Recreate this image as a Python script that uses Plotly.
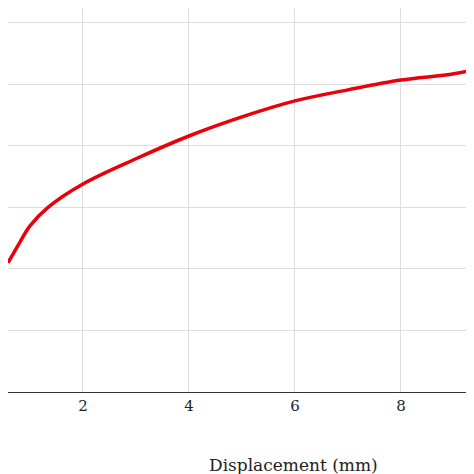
import plotly.graph_objects as go

disp = [0.585, 0.8, 1.0, 1.34, 2, 3, 4, 5, 6, 7, 8, 9, 9.53]
force = [2.10, 2.42, 2.70, 3.0, 3.38, 3.79, 4.16, 4.47, 4.73, 4.91, 5.07, 5.17, 5.27]
xticks = [2, 4, 6, 8]

fig = go.Figure(go.Scatter(x=disp, y=force, mode="lines", line=dict(color="#e8000b", width=3.5, shape="spline")))
fig.update_layout(
    width=474, height=474, margin=dict(l=0, r=0, t=0, b=90, pad=0, autoexpand=False),
    plot_bgcolor="white", paper_bgcolor="white", showlegend=False,
    font=dict(family="DejaVu Serif", size=15, color="#222"),
    xaxis=dict(range=[0.585, 9.53], tickvals=xticks, showgrid=True, gridcolor="#dddddd",
               showline=True, linecolor="#333", zeroline=False, ticks=""),
    yaxis=dict(range=[0, 6.24], dtick=1, showgrid=True, gridcolor="#dddddd",
               showticklabels=False, zeroline=False, showline=False),
    annotations=[dict(text="Displacement (mm)", x=285/474, y=(384-457)/384, xref="paper", yref="paper",
                      xanchor="center", yanchor="middle", showarrow=False, font=dict(size=17))],
)
fig.write_html("out.html")
